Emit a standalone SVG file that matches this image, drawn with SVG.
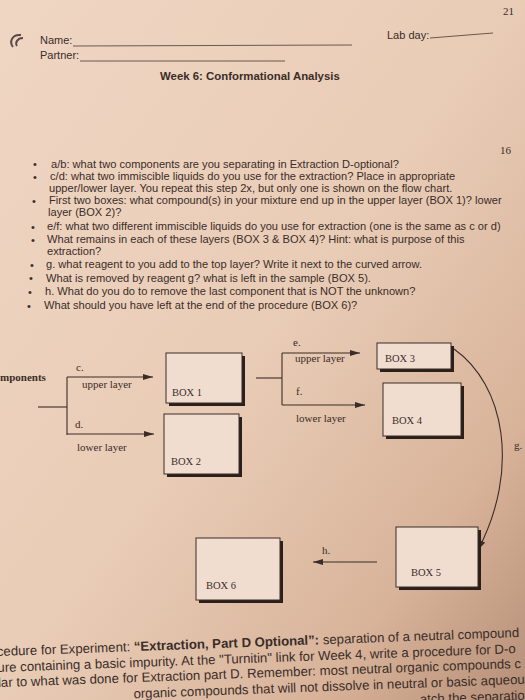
<svg xmlns="http://www.w3.org/2000/svg" width="525" height="700" viewBox="0 0 525 700">
<defs>
<linearGradient id="bg" x1="0" y1="0" x2="1" y2="1">
<stop offset="0" stop-color="#efd6c3"/>
<stop offset="0.5" stop-color="#e9ccb6"/>
<stop offset="0.8" stop-color="#d8b39a"/>
<stop offset="1" stop-color="#b58f77"/>
</linearGradient>
<marker id="ah" viewBox="0 0 10 6" refX="10" refY="3" markerWidth="10" markerHeight="6" markerUnits="userSpaceOnUse" orient="auto">
<path d="M0,0 L10,3 L0,6 Z" fill="#3b2c27"/>
</marker>
<style>
.s{font-family:"Liberation Sans",Arial,sans-serif;fill:#3a2d28}
.q{font-size:11.1px}
.r{font-family:"Liberation Serif","Times New Roman",serif;fill:#3a2d28;font-size:11px}
.b{font-size:10.5px}
.ln{stroke:#3b2c27;stroke-width:1.1;fill:none}
.bx{fill:#f1ddd0;stroke:#3b2c27;stroke-width:1}
.sh{fill:#2a1f1b}
.ul{stroke:#4a3a33;stroke-width:0.8}
</style>
</defs>
<rect width="525" height="700" fill="url(#bg)"/>

<!-- header -->
<text class="r" x="503" y="15" font-size="12">21</text>
<g id="logo" fill="none" stroke="#5a4a45" stroke-width="2">
<path d="M21,35 C12,34 9,42 13,47"/>
<path d="M23,38 C17,38 15,43 17,46"/>
</g>
<text class="s" x="40" y="44" font-size="11">Name:</text>
<line class="ul" x1="73" y1="46" x2="352" y2="45"/>
<text class="s" x="40" y="59" font-size="11">Partner:</text>
<line class="ul" x1="80" y1="61" x2="285" y2="61"/>
<text class="s" x="387" y="39" font-size="11">Lab day:</text>
<line class="ul" x1="430" y1="38" x2="493" y2="33"/>
<text class="s" x="160" y="80" font-size="11.4" font-weight="bold">Week 6: Conformational Analysis</text>

<text class="r" x="500" y="154" font-size="12">16</text>

<!-- bullets -->
<g class="s q">
<text x="33" y="168">•</text><text x="51" y="168">a/b: what two components are you separating in Extraction D-optional?</text>
<text x="33" y="181">•</text><text x="50" y="180">c/d: what two immiscible liquids do you use for the extraction? Place in appropriate</text>
<text x="49" y="192">upper/lower layer. You repeat this step 2x, but only one is shown on the flow chart.</text>
<text x="32" y="205">•</text><text x="49" y="204">First two boxes: what compound(s) in your mixture end up in the upper layer (BOX 1)? lower</text>
<text x="48" y="216">layer (BOX 2)?</text>
<text x="31" y="231">•</text><text x="47" y="230">e/f: what two different immiscible liquids do you use for extraction (one is the same as c or d)</text>
<text x="31" y="244">•</text><text x="47" y="243">What remains in each of these layers (BOX 3 &amp; BOX 4)? Hint: what is purpose of this</text>
<text x="47" y="255">extraction?</text>
<text x="30" y="269">•</text><text x="46" y="268">g. what reagent to you add to the top layer? Write it next to the curved arrow.</text>
<text x="29" y="282">•</text><text x="46" y="282">What is removed by reagent g? what is left in the sample (BOX 5).</text>
<text x="28" y="296">•</text><text x="45" y="295">h. What do you do to remove the last component that is NOT the unknown?</text>
<text x="27" y="310">•</text><text x="44" y="309">What should you have left at the end of the procedure (BOX 6)?</text>
</g>

<!-- connectors -->
<g id="connectors">
<path class="ln" d="M38,407 H67"/>
<path class="ln" d="M67,377 V435"/>
<path class="ln" d="M67,377 H153" marker-end="url(#ah)"/>
<path class="ln" d="M67,434 H154" marker-end="url(#ah)"/>
<path class="ln" d="M256,378 H282"/>
<path class="ln" d="M282,353 V405"/>
<path class="ln" d="M282,353 H360" marker-end="url(#ah)"/>
<path class="ln" d="M282,405 H365" marker-end="url(#ah)"/>
<path class="ln" d="M454,349 C505,385 520,470 478,550" marker-end="url(#ah)"/>
<path class="ln" d="M377,562 H313" marker-end="url(#ah)"/>
</g>

<!-- labels -->
<text class="r" x="0" y="381" font-weight="bold">mponents</text>
<text class="r" x="76" y="371">c.</text>
<text class="r" x="82" y="388">upper layer</text>
<text class="r" x="75" y="428">d.</text>
<text class="r" x="77" y="451">lower layer</text>
<text class="r" x="293" y="346">e.</text>
<text class="r" x="295" y="362">upper layer</text>
<text class="r" x="296" y="395">f.</text>
<text class="r" x="296" y="422">lower layer</text>
<text class="r" x="514" y="449">g.</text>
<text class="r" x="322" y="554">h.</text>

<!-- boxes -->
<g id="box1"><rect class="sh" x="169" y="356" width="76" height="50"/><rect class="bx" x="166" y="353" width="76" height="50"/><text class="r b" x="172" y="396">BOX 1</text></g>
<g id="box2"><rect class="sh" x="167" y="417" width="75" height="60"/><rect class="bx" x="164" y="414" width="75" height="60"/><text class="r b" x="171" y="465">BOX 2</text></g>
<g id="box3"><rect class="sh" x="380" y="346" width="74" height="26"/><rect class="bx" x="377" y="343" width="74" height="26"/><text class="r b" x="385" y="362">BOX 3</text></g>
<g id="box4"><rect class="sh" x="386" y="386" width="78" height="53"/><rect class="bx" x="383" y="383" width="78" height="53"/><text class="r b" x="392" y="424">BOX 4</text></g>
<g id="box5"><rect class="sh" x="399" y="530" width="82" height="60"/><rect class="bx" x="396" y="527" width="82" height="60" fill="#dcc2b1"/><text class="r b" x="411" y="576">BOX 5</text></g>
<g id="box6"><rect class="sh" x="199" y="541" width="84" height="62"/><rect class="bx" x="196" y="538" width="84" height="62"/><text class="r b" x="206" y="589">BOX 6</text></g>

<!-- bottom paragraph -->
<g class="s" font-size="13.2" transform="rotate(-2.1 0 656)">
<text x="-3" y="656">cedure for Experiment: <tspan font-weight="bold">“Extraction, Part D Optional”:</tspan> separation of a neutral compound</text>
<text x="-3" y="672">ure containing a basic impurity. At the "Turnitin" link for Week 4, write a procedure for D-o</text>
<text x="-3" y="687">lar to what was done for Extraction part D. Remember: most neutral organic compounds c</text>
<text x="132" y="703">organic compounds that will not dissolve in neutral or basic aqueou</text>
<text x="418" y="719">atch the separation chart al</text>
</g>
</svg>
